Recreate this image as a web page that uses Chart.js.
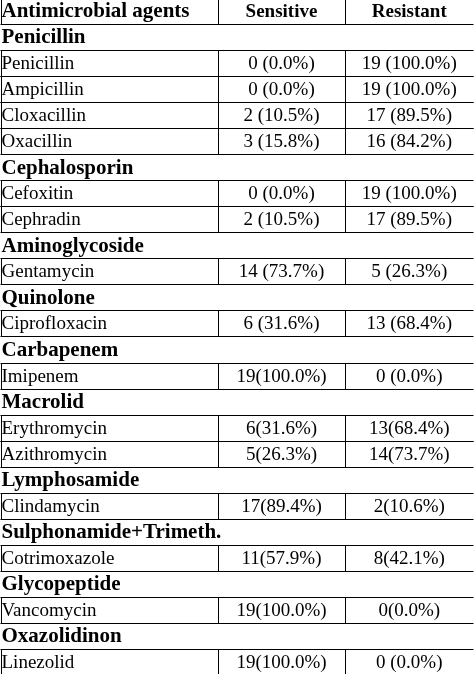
<!DOCTYPE html>
<html>
<head>
<meta charset="utf-8">
<script src="https://cdn.jsdelivr.net/npm/chart.js@4"></script>
<style>
  html, body { margin: 0; padding: 0; background: #fff; }
  #wrap { width: 474px; height: 674px; position: relative; }
</style>
</head>
<body>
<div id="wrap"><canvas id="tbl"></canvas></div>
<script>
// table content, one entry per row
const headers = ['Antimicrobial agents', 'Sensitive', 'Resistant'];
const rowLabels = [
  'Penicillin', 'Penicillin', 'Ampicillin', 'Cloxacillin', 'Oxacillin',
  'Cephalosporin', 'Cefoxitin', 'Cephradin',
  'Aminoglycoside', 'Gentamycin',
  'Quinolone', 'Ciprofloxacin',
  'Carbapenem', 'Imipenem',
  'Macrolid', 'Erythromycin', 'Azithromycin',
  'Lymphosamide', 'Clindamycin',
  'Sulphonamide+Trimeth.', 'Cotrimoxazole',
  'Glycopeptide', 'Vancomycin',
  'Oxazolidinon', 'Linezolid'
];
// true = group heading row (bold, no cell box)
const isGroup = [
  true, false, false, false, false,
  true, false, false,
  true, false,
  true, false,
  true, false,
  true, false, false,
  true, false,
  true, false,
  true, false,
  true, false
];
const sensitive = [
  '', '0 (0.0%)', '0 (0.0%)', '2 (10.5%)', '3 (15.8%)',
  '', '0 (0.0%)', '2 (10.5%)',
  '', '14 (73.7%)',
  '', '6 (31.6%)',
  '', '19(100.0%)',
  '', '6(31.6%)', '5(26.3%)',
  '', '17(89.4%)',
  '', '11(57.9%)',
  '', '19(100.0%)',
  '', '19(100.0%)'
];
const resistant = [
  '', '19 (100.0%)', '19 (100.0%)', '17 (89.5%)', '16 (84.2%)',
  '', '19 (100.0%)', '17 (89.5%)',
  '', '5 (26.3%)',
  '', '13 (68.4%)',
  '', '0 (0.0%)',
  '', '13(68.4%)', '14(73.7%)',
  '', '2(10.6%)',
  '', '8(42.1%)',
  '', '0(0.0%)',
  '', '0 (0.0%)'
];

const colEdges = [0, 218, 345, 474];
const FONT = '"Liberation Serif", "Times New Roman", serif';

const tablePlugin = {
  id: 'tablePlugin',
  afterDraw(chart) {
    const { ctx } = chart;
    const xs = chart.scales.x, ys = chart.scales.y;
    const half = Math.abs(ys.getPixelForValue(1) - ys.getPixelForValue(0)) / 2;
    const ex = colEdges.map(v => xs.getPixelForValue(v));
    ex[0] += 0.5; ex[3] -= 0.5;
    ctx.save();
    ctx.strokeStyle = '#000';
    ctx.lineWidth = 1;
    ctx.fillStyle = '#000';
    ctx.textBaseline = 'middle';

    const drawBox = (yc) => {
      const t = Math.round(yc - half) + 0.5, b = Math.round(yc + half) + 0.5;
      ctx.beginPath();
      ctx.moveTo(ex[0], t); ctx.lineTo(ex[3], t);
      ctx.moveTo(ex[0], b); ctx.lineTo(ex[3], b);
      ex.forEach(x => { const xx = Math.round(x) + 0.5; ctx.moveTo(xx, t); ctx.lineTo(xx, b); });
      ctx.stroke();
    };
    const drawCells = (yc, texts, bold) => {
      ctx.font = (bold ? 'bold 21px ' : '19px ') + FONT;
      ctx.textAlign = 'left';
      ctx.fillText(texts[0], ex[0] + 1, yc + 1);
      ctx.font = (bold ? 'bold ' : '') + '19px ' + FONT;
      ctx.textAlign = 'center';
      if (texts[1]) ctx.fillText(texts[1], (ex[1] + ex[2]) / 2, yc + 1);
      if (texts[2]) ctx.fillText(texts[2], (ex[2] + ex[3]) / 2, yc + 1);
    };

    const yh = ys.getPixelForValue(0);
    drawBox(yh);
    drawCells(yh, headers, true);
    rowLabels.forEach((name, i) => {
      const yc = ys.getPixelForValue(i + 1);
      if (isGroup[i]) {
        drawCells(yc, [name, '', ''], true);
      } else {
        drawBox(yc);
        drawCells(yc, [name, sensitive[i], resistant[i]], false);
      }
    });
    ctx.restore();
  }
};

new Chart(document.getElementById('tbl'), {
  type: 'scatter',
  data: { datasets: [{ data: [] }] },
  options: {
    responsive: true,
    maintainAspectRatio: false,
    animation: false,
    layout: { padding: 0 },
    plugins: { legend: { display: false }, tooltip: { enabled: false } },
    scales: {
      x: { type: 'linear', min: 0, max: 474, display: false },
      y: { type: 'linear', min: -0.42, max: 25.46, reverse: true, display: false }
    }
  },
  plugins: [tablePlugin]
});
</script>
</body>
</html>
